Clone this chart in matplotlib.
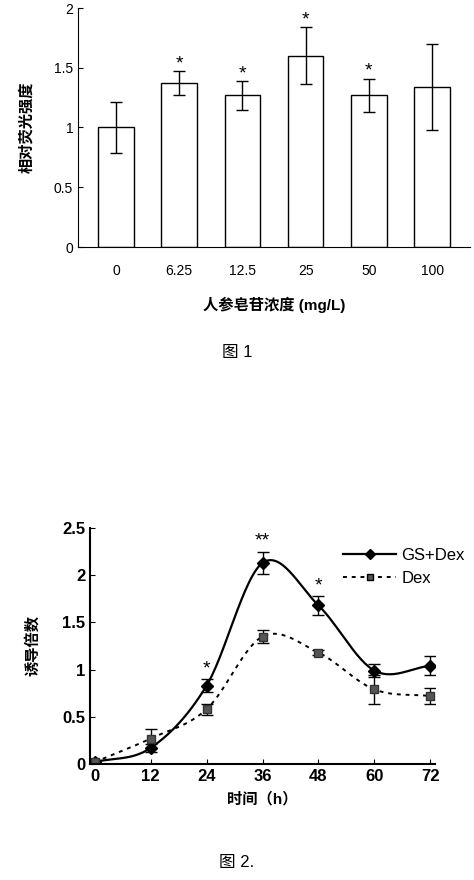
import matplotlib.pyplot as plt
import numpy as np

plt.rcParams['font.family'] = ['Liberation Sans', 'Noto Sans CJK SC', 'DejaVu Sans']

# figure 1 data
conc = ['0', '6.25', '12.5', '25', '50', '100']
fluor = [1.0, 1.37, 1.27, 1.60, 1.27, 1.34]
fluor_err = [0.21, 0.10, 0.12, 0.24, 0.14, 0.36]
fluor_sig = ['', '*', '*', '*', '*', '']

# figure 2 data
hours = [0, 12, 24, 36, 48, 60, 72]
gs_dex = [0.02, 0.17, 0.83, 2.13, 1.68, 0.99, 1.04]
gs_dex_err = [0.02, 0.04, 0.07, 0.12, 0.10, 0.07, 0.10]
dex = [0.02, 0.27, 0.58, 1.35, 1.18, 0.79, 0.72]
dex_err = [0.02, 0.10, 0.06, 0.07, 0.03, 0.15, 0.08]
time_sig = ['', '', '*', '**', '*', '', '']


def smooth(x, y, n=30):
    # catmull-rom curve through the points, like excel smoothed lines
    x = np.asarray(x, float); y = np.asarray(y, float)
    px = np.concatenate([[2*x[0]-x[1]], x, [2*x[-1]-x[-2]]])
    py = np.concatenate([[2*y[0]-y[1]], y, [2*y[-1]-y[-2]]])
    ox, oy = [], []
    t = np.linspace(0, 1, n)
    for i in range(1, len(px)-2):
        for p, out in ((px, ox), (py, oy)):
            p0, p1, p2, p3 = p[i-1], p[i], p[i+1], p[i+2]
            out.extend(0.5*((2*p1) + (-p0+p2)*t + (2*p0-5*p1+4*p2-p3)*t**2
                            + (-p0+3*p1-3*p2+p3)*t**3))
    return ox, oy


W, H = 474, 880
fig = plt.figure(figsize=(W/100, H/100), dpi=100)

# ---- figure 1 ----
ax1 = fig.add_axes([78/W, 1-247/H, 392/W, 239/H])
xs = np.arange(len(conc))
ax1.bar(xs, fluor, width=0.56, color='white', edgecolor='black', linewidth=1,
        yerr=fluor_err, capsize=4, error_kw=dict(elinewidth=1, capthick=1))
for x, v, e, s in zip(xs, fluor, fluor_err, fluor_sig):
    if s:
        ax1.text(x, v+e-0.01, s, ha='center', va='bottom', fontsize=14)
ax1.set_xlim(-0.6, 5.6)
ax1.set_ylim(0, 2)
ax1.set_yticks([0, 0.5, 1, 1.5, 2])
ax1.set_yticklabels(['0', '0.5', '1', '1.5', '2'])
ax1.set_xticks(xs)
ax1.set_xticklabels(conc)
ax1.tick_params(axis='x', length=0, pad=12)
ax1.tick_params(axis='y', direction='in')
for sp in ['top', 'right']:
    ax1.spines[sp].set_visible(False)
ax1.tick_params(labelsize=10)
ax1.set_ylabel('相对荧光强度', fontsize=11, fontweight='bold', labelpad=14)
ax1.set_xlabel('人参皂苷浓度 (mg/L)', fontsize=11, fontweight='bold', labelpad=14)
fig.text(237/W, 1-352/H, '图 1', ha='center', va='center', fontsize=12)

# ---- figure 2 ----
ax2 = fig.add_axes([90/W, 1-764/H, 345/W, 236/H])
sx, sy = smooth(hours, gs_dex)
ax2.plot(sx, sy, color='black', lw=1.6)
ax2.errorbar(hours, gs_dex, yerr=gs_dex_err, fmt='D', color='black', ms=6,
             capsize=4, elinewidth=1)
sx, sy = smooth(hours, dex)
ax2.plot(sx, sy, color='black', lw=1.4, ls=(0, (2, 2.5)))
ax2.errorbar(hours, dex, yerr=dex_err, fmt='s', color='#555555', mec='#333333',
             ecolor='black', ms=6, capsize=4, elinewidth=1)
for h, v, e, s in zip(hours, gs_dex, gs_dex_err, time_sig):
    if s:
        ax2.text(h, v+e+0.02, s, ha='center', va='bottom', fontsize=14)
h1 = ax2.plot([], [], color='black', lw=1.6, marker='D', ms=5)[0]
h2 = ax2.plot([], [], color='black', lw=1.4, ls=(0, (2, 2.5)), marker='s',
              mfc='#555555', ms=5)[0]
ax2.legend([h1, h2], ['GS+Dex', 'Dex'], loc='upper right',
           bbox_to_anchor=(1.13, 0.98), frameon=False, fontsize=12,
           handlelength=3.2, handletextpad=0.3)
ax2.set_xlim(-1, 73)
ax2.set_ylim(0, 2.5)
ax2.set_xticks(hours)
ax2.set_yticks([0, 0.5, 1, 1.5, 2, 2.5])
ax2.set_yticklabels(['0', '0.5', '1', '1.5', '2', '2.5'])
ax2.tick_params(labelsize=12, direction='in')
for lab in ax2.get_xticklabels() + ax2.get_yticklabels():
    lab.set_fontweight('bold')
for sp in ['top', 'right']:
    ax2.spines[sp].set_visible(False)
for sp in ['left', 'bottom']:
    ax2.spines[sp].set_linewidth(1.5)
ax2.set_ylabel('诱导倍数', fontsize=11, fontweight='bold', labelpad=16)
ax2.set_xlabel('时间（h）', fontsize=11, fontweight='bold', labelpad=6)
fig.text(237/W, 1-862/H, '图 2.', ha='center', va='center', fontsize=12)

fig.savefig('out.png', dpi=100)
